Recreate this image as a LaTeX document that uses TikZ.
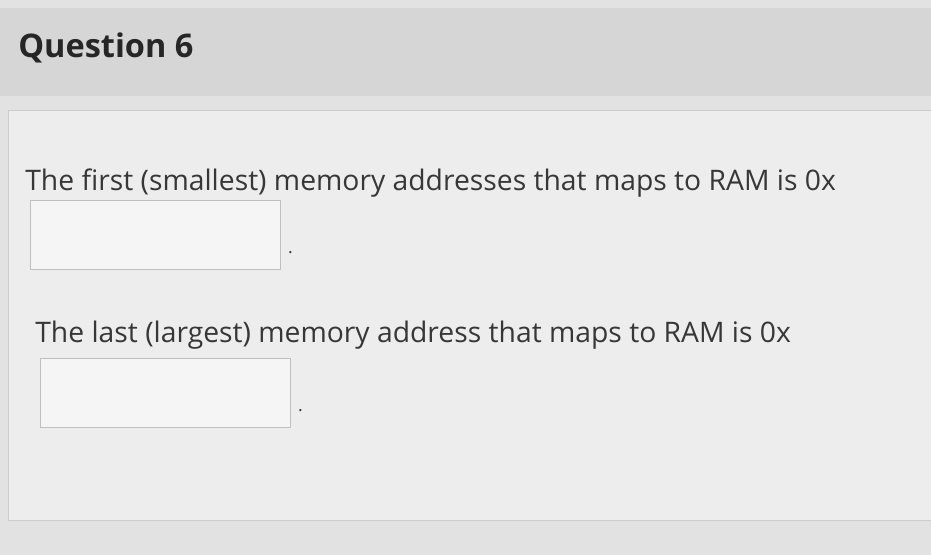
\documentclass[tikz,border=0pt]{standalone}
\usepackage{fontspec}
\setmainfont{Open Sans}
\usetikzlibrary{positioning}
\definecolor{pagegray}{RGB}{226,226,226}
\definecolor{bandgray}{RGB}{214,214,214}
\definecolor{textgray}{RGB}{55,55,55}
\tikzset{
	answer/.style={draw=black!25, fill=white!96!black, minimum width=5cm, minimum height=1.38cm, anchor=north west},
	prompt/.style={anchor=west, inner sep=0pt, text=textgray, font=\fontsize{16.1}{19}\selectfont},
}
\begin{document}
\begin{tikzpicture}[x=0.02cm, y=-0.02cm]
	\useasboundingbox [fill=pagegray] (0, 0) rectangle (931, 555);
	\fill [bandgray] (0, 8) rectangle (931, 96);
	\draw [black!20, fill=white!93!black] (8, 110) rectangle (940, 520);
	\node [anchor=west, inner sep=0pt, font=\bfseries\fontsize{18.5}{22}\selectfont, text=black!85] (Title) at (18, 48) {Question 6};
	\node [prompt] (FirstText) at (25, 183) {The first (smallest) memory addresses that maps to RAM is 0x};
	\node [answer] (FirstBox) at (30, 200) {};
	\node [prompt] (LastText) at (35, 335) {The last (largest) memory address that maps to RAM is 0x};
	\node [answer] (LastBox) at (40, 358) {};
	\node [right=4pt of FirstBox.east, anchor=west, yshift=-0.35cm, inner sep=0pt, text=textgray] (FirstDot) {.};
	\node [right=4pt of LastBox.east, anchor=west, yshift=-0.35cm, inner sep=0pt, text=textgray] (LastDot) {.};
\end{tikzpicture}
\end{document}
